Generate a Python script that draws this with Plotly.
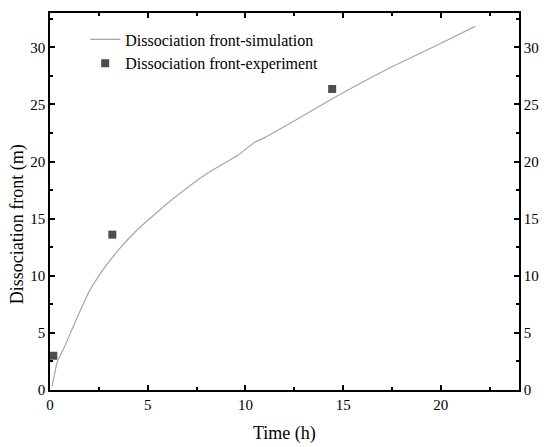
import plotly.graph_objects as pgo

# simulated dissociation front
sim_time = [0.1, 0.24, 0.37, 0.74, 1.25, 1.72, 2.03, 2.7, 3.55, 4.39, 5.54, 6.25,
            7.94, 9.63, 10.5, 10.98, 12.42, 14.44, 17.23, 19.77, 21.76]
sim_front = [0.3, 1.45, 2.46, 3.77, 5.8, 7.6, 8.7, 10.5, 12.35, 13.9, 15.65, 16.67,
             18.84, 20.58, 21.7, 22.09, 23.48, 25.5, 28.06, 30.15, 31.83]

# experimental points
exp_time = [0.17, 3.19, 14.44]
exp_front = [3.0, 13.6, 26.35]

FONT = 'Liberation Serif'

fig = pgo.Figure()
fig.add_trace(pgo.Scatter(
    x=sim_time, y=sim_front,
    name='Dissociation front-simulation',
    mode='lines',
    line={'color': '#a6a6a6', 'width': 1.2, 'shape': 'spline', 'smoothing': 0.5}
))
fig.add_trace(pgo.Scatter(
    x=exp_time, y=exp_front,
    name='Dissociation front-experiment',
    mode='markers',
    marker={'symbol': 'square', 'size': 8, 'color': '#4d4d4d'}
))
# dummy trace so the right axis gets drawn
fig.add_trace(pgo.Scatter(
    x=exp_time, y=exp_front, yaxis='y2', mode='markers',
    marker={'opacity': 0}, showlegend=False, hoverinfo='skip'
))

axis_common = dict(
    showgrid=False, zeroline=False,
    showline=True, linecolor='black', linewidth=1.5,
    ticks='inside', ticklen=5, tickwidth=1.5, tickcolor='black',
    tickfont=dict(family=FONT, size=15, color='black'),
)
minor_ticks = dict(ticks='inside', ticklen=3, tickwidth=1.5, dtick=2.5, tickcolor='black')

fig.update_layout(
    width=550, height=447,
    margin=dict(l=50, r=28, t=11, b=57),
    paper_bgcolor='white', plot_bgcolor='white',
    font=dict(family=FONT, color='black'),
    showlegend=True,
    legend=dict(
        x=0.075, y=0.975, xanchor='left', yanchor='top',
        bgcolor='rgba(0,0,0,0)',
        font=dict(family=FONT, size=16, color='black'),
        tracegroupgap=0,
    ),
    xaxis=dict(
        **axis_common,
        range=[0, 24], dtick=5, tick0=0,
        mirror='ticks', minor=minor_ticks,
    ),
    yaxis=dict(
        **axis_common,
        range=[0, 33], dtick=5, tick0=0,
        mirror='ticks', minor=minor_ticks,
    ),
    yaxis2=dict(
        **axis_common,
        range=[0, 33], dtick=5, tick0=0,
        overlaying='y', side='right', anchor='x',
        minor=minor_ticks,
    ),
    annotations=[
        dict(text='Time (h)', xref='paper', yref='paper', x=0.5, y=-0.115,
             xanchor='center', yanchor='middle', showarrow=False,
             font=dict(family=FONT, size=18)),
        dict(text='Dissociation front (m)', xref='paper', yref='paper',
             x=-0.07, y=0.44, xanchor='center', yanchor='middle',
             textangle=-90, showarrow=False,
             font=dict(family=FONT, size=18)),
    ],
)

fig.write_html('out.html', config={'displayModeBar': False},
               post_script="document.body.style.margin='0px';")
